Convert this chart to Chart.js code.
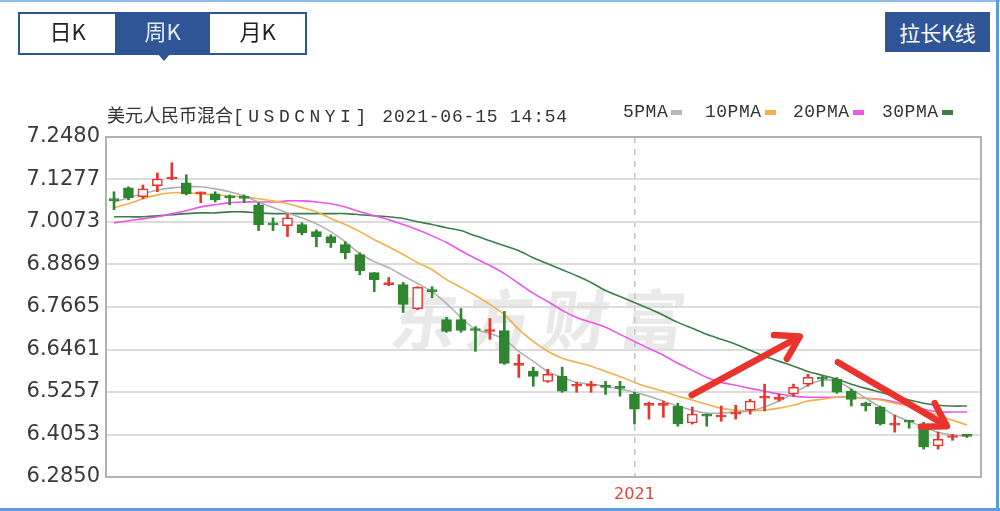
<!DOCTYPE html>
<html>
<head>
<meta charset="utf-8">
<script src="https://cdn.jsdelivr.net/npm/chart.js@4.4.1/dist/chart.umd.min.js"></script>
<style>
    body { margin: 0; width: 1000px; height: 511px; overflow: hidden; background: #fff; position: relative; }
    #kline { position: absolute; left: 0; top: 0; z-index: 1; }
    .edge { position: absolute; background: #5b9be0; z-index: 3; }
    #tabs { position: absolute; left: 18px; top: 12px; width: 285px; height: 39px; border: 2px solid #2f5597; display: flex; z-index: 2; }
    #tabs div { flex: 1; text-align: center; line-height: 39px; font: 22px "Noto Sans CJK SC", sans-serif; color: #222; }
    #tabs .on { background: #2f5597; color: #e6ebf5; position: relative; }
    #tabs .on:after { content: ""; position: absolute; left: 42px; top: 39px; border-left: 7px solid transparent; border-right: 7px solid transparent; border-top: 8px solid #2f5597; }
    #stretch { position: absolute; left: 885px; top: 12px; width: 105px; height: 40px; background: #2f5597; color: #fff; font: 21px "Noto Sans CJK SC", sans-serif; line-height: 40px; text-align: center; z-index: 2; }
    #title { position: absolute; left: 107px; top: 101px; font-size: 18px; color: #333; white-space: nowrap; z-index: 2; }
    #title .cn { font-family: "Noto Sans CJK SC", sans-serif; }
    #title .mono { font-family: "Liberation Mono", monospace; }
    .lg { position: absolute; top: 102px; font: 18px "Liberation Mono", monospace; letter-spacing: 0.5px; color: #333; z-index: 2; display: flex; align-items: center; }
    .lg i { display: inline-block; width: 11px; height: 5px; margin-left: 3px; }
    #mark { position: absolute; left: 392px; top: 268px; font: bold 66px "Noto Sans CJK SC", sans-serif; letter-spacing: 10px; color: #e9e9e9; z-index: 0; transform: skewX(-8deg); }
</style>
</head>
<body>
<div class="edge" style="left:0;top:0;width:1000px;height:2px;background:#8dbbec"></div>
<div class="edge" style="left:996px;top:0;width:3px;height:511px"></div>
<div class="edge" style="left:0;top:508px;width:1000px;height:3px"></div>
<div id="tabs"><div>日K</div><div class="on">周K</div><div>月K</div></div>
<div id="stretch">拉长K线</div>
<div id="title"><span class="cn">美元人民币混合</span><span class="mono" style="letter-spacing:4.5px">[USDCNYI]</span><span class="mono" style="letter-spacing:0.8px"> 2021-06-15 14:54</span></div>
<div class="lg" style="left:623px">5PMA<i style="background:#b8b8b8"></i></div>
<div class="lg" style="left:705px">10PMA<i style="background:#f2b14a"></i></div>
<div class="lg" style="left:793px">20PMA<i style="background:#ee55ee"></i></div>
<div class="lg" style="left:882px">30PMA<i style="background:#3d7d4a"></i></div>
<div id="mark">东方财富</div>
<canvas id="kline" width="1000" height="511"></canvas>
<script>
// weekly candles, USD/CNY
const weeks = [
    '2020-04-27', '2020-05-04', '2020-05-11', '2020-05-18', '2020-05-25', '2020-06-01', '2020-06-08', '2020-06-15',
    '2020-06-22', '2020-06-29', '2020-07-06', '2020-07-13', '2020-07-20', '2020-07-27', '2020-08-03', '2020-08-10',
    '2020-08-17', '2020-08-24', '2020-08-31', '2020-09-07', '2020-09-14', '2020-09-21', '2020-09-28', '2020-10-05',
    '2020-10-12', '2020-10-19', '2020-10-26', '2020-11-02', '2020-11-09', '2020-11-16', '2020-11-23', '2020-11-30',
    '2020-12-07', '2020-12-14', '2020-12-21', '2020-12-28', '2021-01-04', '2021-01-11', '2021-01-18', '2021-01-25',
    '2021-02-01', '2021-02-08', '2021-02-15', '2021-02-22', '2021-03-01', '2021-03-08', '2021-03-15', '2021-03-22',
    '2021-03-29', '2021-04-05', '2021-04-12', '2021-04-19', '2021-04-26', '2021-05-03', '2021-05-10', '2021-05-17',
    '2021-05-24', '2021-05-31', '2021-06-07', '2021-06-14'
];
const open = [
    7.070, 7.104, 7.079, 7.110, 7.129, 7.118, 7.087, 7.087, 7.079, 7.077,
    7.056, 7.002, 6.997, 7.000, 6.980, 6.966, 6.943, 6.915, 6.864, 6.830,
    6.830, 6.762, 6.813, 6.731, 6.731, 6.703, 6.697, 6.700, 6.601, 6.584,
    6.556, 6.570, 6.542, 6.542, 6.542, 6.539, 6.519, 6.488, 6.488, 6.486,
    6.438, 6.460, 6.455, 6.463, 6.474, 6.508, 6.505, 6.520, 6.548, 6.565,
    6.562, 6.528, 6.494, 6.483, 6.432, 6.443, 6.435, 6.373, 6.397, 6.403
];
const high = [
    7.093, 7.107, 7.112, 7.146, 7.175, 7.141, 7.092, 7.093, 7.084, 7.084,
    7.062, 7.019, 7.028, 7.005, 6.985, 6.971, 6.951, 6.920, 6.864, 6.850,
    6.836, 6.824, 6.824, 6.737, 6.762, 6.711, 6.734, 6.754, 6.632, 6.596,
    6.590, 6.596, 6.553, 6.556, 6.556, 6.556, 6.525, 6.497, 6.500, 6.494,
    6.483, 6.463, 6.486, 6.488, 6.505, 6.548, 6.520, 6.548, 6.576, 6.570,
    6.567, 6.534, 6.497, 6.486, 6.460, 6.446, 6.440, 6.412, 6.406, 6.406
];
const low = [
    7.042, 7.070, 7.073, 7.093, 7.127, 7.084, 7.062, 7.064, 7.056, 7.062,
    6.983, 6.983, 6.966, 6.971, 6.937, 6.935, 6.903, 6.858, 6.810, 6.827,
    6.751, 6.759, 6.793, 6.695, 6.695, 6.641, 6.675, 6.604, 6.567, 6.542,
    6.553, 6.525, 6.525, 6.525, 6.519, 6.514, 6.435, 6.449, 6.454, 6.429,
    6.435, 6.429, 6.443, 6.449, 6.463, 6.472, 6.500, 6.514, 6.542, 6.542,
    6.522, 6.486, 6.472, 6.432, 6.412, 6.423, 6.364, 6.364, 6.389, 6.397
];
const close = [
    7.068, 7.076, 7.101, 7.129, 7.133, 7.087, 7.090, 7.070, 7.076, 7.074,
    7.000, 6.999, 7.019, 6.977, 6.966, 6.949, 6.920, 6.869, 6.844, 6.833,
    6.774, 6.822, 6.810, 6.697, 6.700, 6.700, 6.700, 6.607, 6.605, 6.570,
    6.576, 6.528, 6.545, 6.545, 6.539, 6.536, 6.477, 6.491, 6.491, 6.435,
    6.463, 6.457, 6.458, 6.466, 6.500, 6.512, 6.509, 6.539, 6.567, 6.562,
    6.525, 6.505, 6.486, 6.435, 6.435, 6.440, 6.370, 6.392, 6.400, 6.400
];
// moving averages as shown on the chart
const ma5 = [
    7.064, 7.076, 7.087, 7.098, 7.104, 7.107, 7.107, 7.101, 7.093, 7.081,
    7.064, 7.048, 7.033, 7.019, 7.002, 6.980, 6.951, 6.918, 6.895, 6.878,
    6.855, 6.833, 6.810, 6.776, 6.737, 6.703, 6.692, 6.675, 6.641, 6.613,
    6.584, 6.567, 6.553, 6.548, 6.542, 6.534, 6.525, 6.514, 6.500, 6.486,
    6.474, 6.466, 6.466, 6.469, 6.472, 6.483, 6.500, 6.522, 6.545, 6.559,
    6.556, 6.534, 6.508, 6.483, 6.460, 6.443, 6.426, 6.412, 6.404, 6.401
];
const ma10 = [
    7.048, 7.059, 7.073, 7.084, 7.090, 7.090, 7.087, 7.084, 7.081, 7.079,
    7.073, 7.067, 7.059, 7.048, 7.036, 7.017, 7.000, 6.980, 6.957, 6.937,
    6.915, 6.892, 6.872, 6.844, 6.822, 6.799, 6.774, 6.745, 6.703, 6.669,
    6.641, 6.621, 6.610, 6.599, 6.584, 6.570, 6.553, 6.539, 6.528, 6.514,
    6.503, 6.491, 6.480, 6.474, 6.472, 6.474, 6.480, 6.488, 6.500, 6.505,
    6.511, 6.511, 6.508, 6.503, 6.494, 6.486, 6.474, 6.460, 6.446, 6.432
];
const ma20 = [
    7.005, 7.011, 7.016, 7.022, 7.031, 7.039, 7.050, 7.056, 7.062, 7.064,
    7.064, 7.064, 7.067, 7.067, 7.064, 7.059, 7.050, 7.036, 7.025, 7.014,
    7.000, 6.985, 6.968, 6.949, 6.926, 6.904, 6.884, 6.861, 6.833, 6.805,
    6.782, 6.757, 6.737, 6.723, 6.709, 6.689, 6.669, 6.649, 6.630, 6.607,
    6.587, 6.567, 6.553, 6.545, 6.536, 6.528, 6.520, 6.514, 6.511, 6.511,
    6.511, 6.511, 6.508, 6.505, 6.497, 6.486, 6.477, 6.469, 6.469, 6.469
];
const ma30 = [
    7.022, 7.022, 7.022, 7.025, 7.028, 7.031, 7.033, 7.033, 7.036, 7.036,
    7.033, 7.031, 7.031, 7.031, 7.031, 7.031, 7.031, 7.028, 7.025, 7.022,
    7.017, 7.008, 7.000, 6.991, 6.983, 6.968, 6.954, 6.940, 6.926, 6.906,
    6.889, 6.872, 6.855, 6.836, 6.813, 6.796, 6.779, 6.762, 6.743, 6.723,
    6.706, 6.689, 6.675, 6.661, 6.644, 6.627, 6.613, 6.599, 6.584, 6.573,
    6.562, 6.548, 6.536, 6.525, 6.514, 6.503, 6.494, 6.488, 6.486, 6.486
];
const yTicks = [7.2480, 7.1277, 7.0073, 6.8869, 6.7665, 6.6461, 6.5257, 6.4053, 6.2850];
const yearTicks = ['2021'];
// red arrows drawn on the screenshot: [week from, price from, week to, price to]
const arrowNotes = [
    [39.96, 6.517, 47.44, 6.683],
    [50.07, 6.610, 57.62, 6.429]
];

const RED = '#e8342c';
const GREEN = '#2f8530';

const isUp = i => close[i] >= open[i];

const framePlugin = {
    id: 'frame',
    beforeDatasetsDraw(chart) {
        const { ctx, chartArea: a } = chart;
        ctx.save();
        ctx.strokeStyle = '#b2b2b2';
        ctx.lineWidth = 2;
        ctx.strokeRect(a.left, a.top, a.right - a.left, a.bottom - a.top);
        ctx.restore();
    }
};

const arrowPlugin = {
    id: 'arrows',
    afterDatasetsDraw(chart) {
        const { ctx, scales } = chart;
        arrowNotes.forEach(([i0, v0, i1, v1]) => {
            const x0 = scales.x.getPixelForValue(i0), y0 = scales.y.getPixelForValue(v0);
            const x1 = scales.x.getPixelForValue(i1), y1 = scales.y.getPixelForValue(v1);
            const ang = Math.atan2(y1 - y0, x1 - x0);
            const len = 26, spread = 0.55;
            ctx.save();
            ctx.strokeStyle = RED;
            ctx.lineWidth = 6.5;
            ctx.lineCap = 'round';
            ctx.lineJoin = 'round';
            ctx.beginPath();
            ctx.moveTo(x0, y0);
            ctx.lineTo(x1 - 3 * Math.cos(ang), y1 - 3 * Math.sin(ang));
            ctx.stroke();
            ctx.beginPath();
            ctx.moveTo(x1 - len * Math.cos(ang - spread), y1 - len * Math.sin(ang - spread));
            ctx.lineTo(x1, y1);
            ctx.lineTo(x1 - len * Math.cos(ang + spread), y1 - len * Math.sin(ang + spread));
            ctx.stroke();
            ctx.restore();
        });
    }
};

function maLine(label, values, color) {
    return {
        type: 'line',
        label: label,
        data: values.map((v, i) => ({ x: i, y: v })),
        borderColor: color,
        borderWidth: 1.6,
        pointRadius: 0,
        tension: 0.3,
        order: 2
    };
}

const ctx = document.getElementById('kline').getContext('2d');

new Chart(ctx, {
    type: 'line',
    data: {
        datasets: [
            maLine('5PMA', ma5, '#b0b0b0'),
            maLine('10PMA', ma10, '#f2b14a'),
            maLine('20PMA', ma20, '#ec55ec'),
            maLine('30PMA', ma30, '#3d7d4a'),
            {
                type: 'bar',
                label: 'wick',
                data: weeks.map((w, i) => ({ x: i, y: [low[i], high[i]] })),
                backgroundColor: ctx => isUp(ctx.dataIndex) ? RED : GREEN,
                barThickness: 2,
                grouped: false,
                order: 1
            },
            {
                type: 'bar',
                label: 'body',
                data: weeks.map((w, i) => ({ x: i, y: [Math.min(open[i], close[i]), Math.max(open[i], close[i])] })),
                backgroundColor: ctx => {
                    const i = ctx.dataIndex;
                    if (!isUp(i)) return GREEN;
                    return close[i] - open[i] > 0.006 ? '#ffffff' : RED;
                },
                borderColor: ctx => isUp(ctx.dataIndex) ? RED : GREEN,
                borderWidth: 1.5,
                borderSkipped: false,
                barThickness: 10,
                minBarLength: 2,
                grouped: false,
                order: 0
            }
        ]
    },
    options: {
        responsive: false,
        animation: false,
        layout: {
            padding: { top: 137, right: 19, left: 0, bottom: 0 }
        },
        plugins: {
            legend: { display: false },
            tooltip: { enabled: false }
        },
        scales: {
            x: {
                type: 'linear',
                min: -0.554,
                max: 59.97,
                offset: false,
                afterBuildTicks: scale => {
                    scale.ticks = yearTicks.map(y => ({ value: weeks.findIndex(w => w.startsWith(y)) }));
                },
                afterFit: scale => { scale.height = 34; },
                grid: {
                    offset: false,
                    color: '#c4c4c4',
                    lineWidth: 1.5,
                    drawTicks: false
                },
                border: { display: false, dash: [6, 6] },
                ticks: {
                    padding: 8,
                    color: '#e0443c',
                    font: { family: 'DejaVu Sans', size: 16 },
                    maxRotation: 0,
                    callback: value => weeks[value].slice(0, 4)
                }
            },
            y: {
                min: 6.2850,
                max: 7.2480,
                afterBuildTicks: scale => {
                    scale.ticks = yTicks.map(v => ({ value: v }));
                },
                afterFit: scale => { scale.width = 106; },
                grid: {
                    color: '#dcdcdc',
                    lineWidth: 2,
                    drawTicks: false
                },
                border: { display: false },
                ticks: {
                    padding: 6,
                    color: '#3a3a3a',
                    font: { family: 'DejaVu Sans', size: 21 },
                    callback: value => value.toFixed(4)
                }
            }
        }
    },
    plugins: [framePlugin, arrowPlugin]
});
</script>
</body>
</html>
